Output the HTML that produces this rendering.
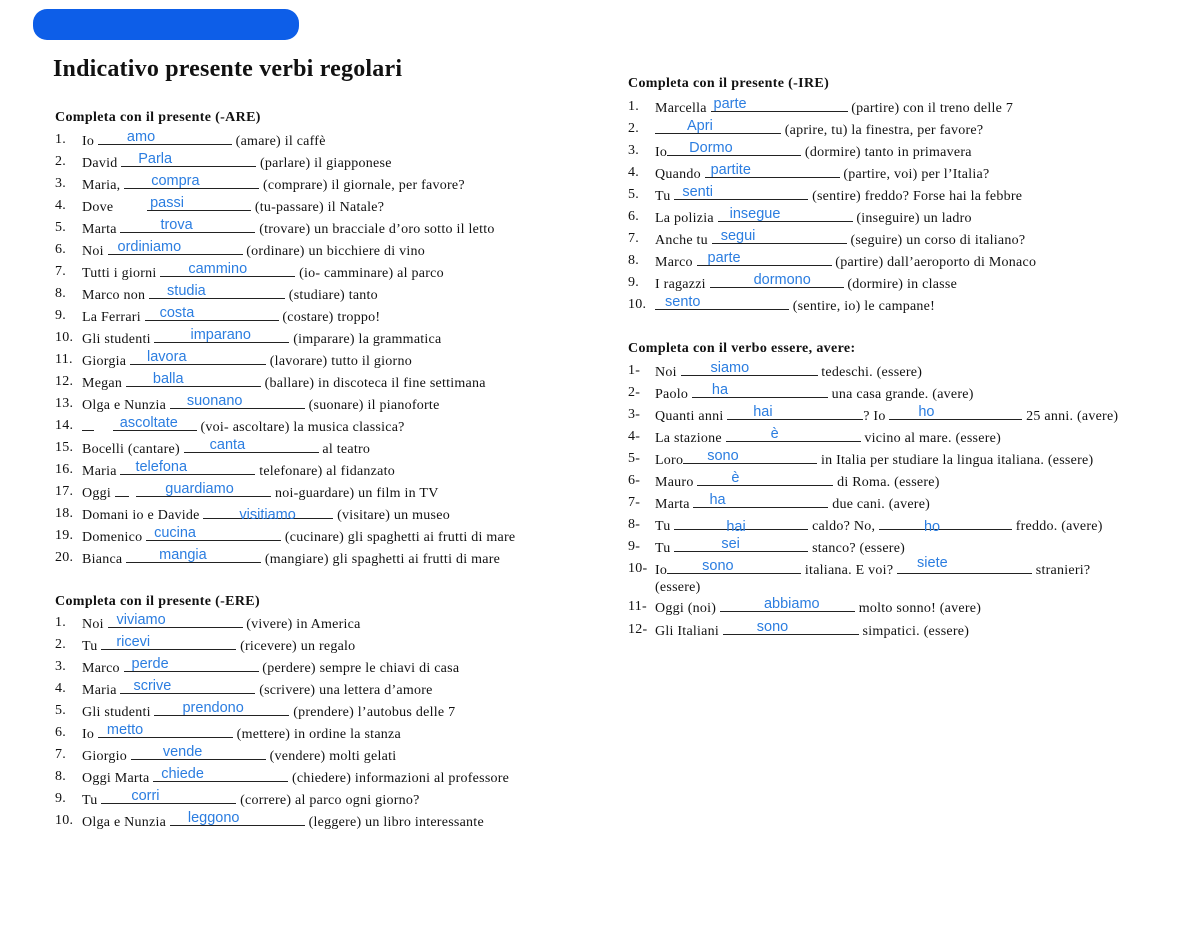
<!DOCTYPE html>
<html><head><meta charset="utf-8"><style>
body{margin:0;background:#fff;width:1200px;height:927px;position:relative;overflow:hidden;font-family:"Liberation Serif",serif;color:#111}
.blob{position:absolute;left:33px;top:9px;width:266px;height:31px;background:#0d5ee8;border-radius:14px}
h1{position:absolute;left:53px;top:56px;margin:0;font-size:24px;font-weight:bold;white-space:nowrap;letter-spacing:0.2px}
.h{position:absolute;font-size:14px;letter-spacing:0.35px;font-weight:bold;white-space:nowrap}
.l{position:absolute;font-size:14px;letter-spacing:0.25px;line-height:16px;white-space:nowrap;height:16px}
.l .t{position:absolute;left:27px;top:0}
.b{display:inline-block;border-bottom:1px solid #222;height:12px;position:relative;vertical-align:baseline}
.b u{position:absolute;bottom:-1px;font:14.5px "Liberation Sans",sans-serif;letter-spacing:0;color:#2b7de0;text-decoration:none;white-space:nowrap}
</style></head><body>
<div class="blob"></div>
<h1>Indicativo presente verbi regolari</h1>

<div class="h" style="left:55px;top:110px">Completa con il presente (-ARE)</div>
<div class="l" style="left:55px;top:132px">1.<span class="t">Io <i class="b" style="width:134px"><u style="left:29px">amo</u></i> (amare) il caffè</span></div>
<div class="l" style="left:55px;top:154px">2.<span class="t">David <i class="b" style="width:135px"><u style="left:17px">Parla</u></i> (parlare) il giapponese</span></div>
<div class="l" style="left:55px;top:176px">3.<span class="t">Maria, <i class="b" style="width:135px"><u style="left:27px">compra</u></i> (comprare) il giornale, per favore?</span></div>
<div class="l" style="left:55px;top:198px">4.<span class="t">Dove &nbsp; &nbsp; &nbsp; &nbsp; <i class="b" style="width:104px"><u style="left:3px">passi</u></i> (tu-passare) il Natale?</span></div>
<div class="l" style="left:55px;top:220px">5.<span class="t">Marta <i class="b" style="width:135px"><u style="left:40px">trova</u></i> (trovare) un bracciale d’oro sotto il letto</span></div>
<div class="l" style="left:55px;top:242px">6.<span class="t">Noi <i class="b" style="width:135px"><u style="left:10px">ordiniamo</u></i> (ordinare) un bicchiere di vino</span></div>
<div class="l" style="left:55px;top:264px">7.<span class="t">Tutti i giorni <i class="b" style="width:135px"><u style="left:28px">cammino</u></i> (io- camminare) al parco</span></div>
<div class="l" style="left:55px;top:286px">8.<span class="t">Marco non <i class="b" style="width:136px"><u style="left:18px">studia</u></i> (studiare) tanto</span></div>
<div class="l" style="left:55px;top:308px">9.<span class="t">La Ferrari <i class="b" style="width:134px"><u style="left:15px">costa</u></i> (costare) troppo!</span></div>
<div class="l" style="left:55px;top:330px">10.<span class="t">Gli studenti <i class="b" style="width:135px"><u style="left:36px">imparano</u></i> (imparare) la grammatica</span></div>
<div class="l" style="left:55px;top:352px">11.<span class="t">Giorgia <i class="b" style="width:136px"><u style="left:17px">lavora</u></i> (lavorare) tutto il giorno</span></div>
<div class="l" style="left:55px;top:374px">12.<span class="t">Megan <i class="b" style="width:135px"><u style="left:27px">balla</u></i> (ballare) in discoteca il fine settimana</span></div>
<div class="l" style="left:55px;top:396px">13.<span class="t">Olga e Nunzia <i class="b" style="width:135px"><u style="left:17px">suonano</u></i> (suonare) il pianoforte</span></div>
<div class="l" style="left:55px;top:418px">14.<span class="t"><i class="b" style="width:12px"></i> &nbsp; &nbsp; <i class="b" style="width:84px"><u style="left:7px">ascoltate</u></i> (voi- ascoltare) la musica classica?</span></div>
<div class="l" style="left:55px;top:440px">15.<span class="t">Bocelli (cantare) <i class="b" style="width:135px"><u style="left:26px">canta</u></i> al teatro</span></div>
<div class="l" style="left:55px;top:462px">16.<span class="t">Maria <i class="b" style="width:135px"><u style="left:15px">telefona</u></i> telefonare) al fidanzato</span></div>
<div class="l" style="left:55px;top:484px">17.<span class="t">Oggi <i class="b" style="width:14px"></i> &nbsp;<i class="b" style="width:135px"><u style="left:29px">guardiamo</u></i> noi-guardare) un film in TV</span></div>
<div class="l" style="left:55px;top:506px">18.<span class="t">Domani io e Davide <i class="b" style="width:130px"><u style="left:36px;bottom:-5px">visitiamo</u></i> (visitare) un museo</span></div>
<div class="l" style="left:55px;top:528px">19.<span class="t">Domenico <i class="b" style="width:135px"><u style="left:8px">cucina</u></i> (cucinare) gli spaghetti ai frutti di mare</span></div>
<div class="l" style="left:55px;top:550px">20.<span class="t">Bianca <i class="b" style="width:135px"><u style="left:33px">mangia</u></i> (mangiare) gli spaghetti ai frutti di mare</span></div>

<div class="h" style="left:55px;top:594px">Completa con il presente (-ERE)</div>
<div class="l" style="left:55px;top:615px">1.<span class="t">Noi <i class="b" style="width:135px"><u style="left:9px">viviamo</u></i> (vivere) in America</span></div>
<div class="l" style="left:55px;top:637px">2.<span class="t">Tu <i class="b" style="width:135px"><u style="left:15px">ricevi</u></i> (ricevere) un regalo</span></div>
<div class="l" style="left:55px;top:659px">3.<span class="t">Marco <i class="b" style="width:135px"><u style="left:8px">perde</u></i> (perdere) sempre le chiavi di casa</span></div>
<div class="l" style="left:55px;top:681px">4.<span class="t">Maria <i class="b" style="width:135px"><u style="left:13px">scrive</u></i> (scrivere) una lettera d’amore</span></div>
<div class="l" style="left:55px;top:703px">5.<span class="t">Gli studenti <i class="b" style="width:135px"><u style="left:28px">prendono</u></i> (prendere) l’autobus delle 7</span></div>
<div class="l" style="left:55px;top:725px">6.<span class="t">Io <i class="b" style="width:135px"><u style="left:9px">metto</u></i> (mettere) in ordine la stanza</span></div>
<div class="l" style="left:55px;top:747px">7.<span class="t">Giorgio <i class="b" style="width:135px"><u style="left:32px">vende</u></i> (vendere) molti gelati</span></div>
<div class="l" style="left:55px;top:769px">8.<span class="t">Oggi Marta <i class="b" style="width:135px"><u style="left:8px">chiede</u></i> (chiedere) informazioni al professore</span></div>
<div class="l" style="left:55px;top:791px">9.<span class="t">Tu <i class="b" style="width:135px"><u style="left:30px">corri</u></i> (correre) al parco ogni giorno?</span></div>
<div class="l" style="left:55px;top:813px">10.<span class="t">Olga e Nunzia <i class="b" style="width:135px"><u style="left:18px">leggono</u></i> (leggere) un libro interessante</span></div>

<div class="h" style="left:628px;top:76px">Completa con il presente (-IRE)</div>
<div class="l" style="left:628px;top:99px">1.<span class="t">Marcella <i class="b" style="width:137px"><u style="left:3px">parte</u></i> (partire) con il treno delle 7</span></div>
<div class="l" style="left:628px;top:121px">2.<span class="t"><i class="b" style="width:126px"><u style="left:32px">Apri</u></i> (aprire, tu) la finestra, per favore?</span></div>
<div class="l" style="left:628px;top:143px">3.<span class="t">Io<i class="b" style="width:134px"><u style="left:22px">Dormo</u></i> (dormire) tanto in primavera</span></div>
<div class="l" style="left:628px;top:165px">4.<span class="t">Quando <i class="b" style="width:135px"><u style="left:6px">partite</u></i> (partire, voi) per l’Italia?</span></div>
<div class="l" style="left:628px;top:187px">5.<span class="t">Tu <i class="b" style="width:134px"><u style="left:8px">senti</u></i> (sentire) freddo? Forse hai la febbre</span></div>
<div class="l" style="left:628px;top:209px">6.<span class="t">La polizia <i class="b" style="width:135px"><u style="left:12px">insegue</u></i> (inseguire) un ladro</span></div>
<div class="l" style="left:628px;top:231px">7.<span class="t">Anche tu <i class="b" style="width:135px"><u style="left:9px">segui</u></i> (seguire) un corso di italiano?</span></div>
<div class="l" style="left:628px;top:253px">8.<span class="t">Marco <i class="b" style="width:135px"><u style="left:11px">parte</u></i> (partire) dall’aeroporto di Monaco</span></div>
<div class="l" style="left:628px;top:275px">9.<span class="t">I ragazzi <i class="b" style="width:134px"><u style="left:44px">dormono</u></i> (dormire) in classe</span></div>
<div class="l" style="left:628px;top:297px">10.<span class="t"><i class="b" style="width:134px"><u style="left:10px">sento</u></i> (sentire, io) le campane!</span></div>

<div class="h" style="left:628px;top:341px">Completa con il verbo essere, avere:</div>
<div class="l" style="left:628px;top:363px">1-<span class="t">Noi <i class="b" style="width:137px"><u style="left:30px">siamo</u></i> tedeschi. (essere)</span></div>
<div class="l" style="left:628px;top:385px">2-<span class="t">Paolo <i class="b" style="width:136px"><u style="left:20px">ha</u></i> una casa grande. (avere)</span></div>
<div class="l" style="left:628px;top:407px">3-<span class="t">Quanti anni <i class="b" style="width:136px"><u style="left:26px">hai</u></i>? Io <i class="b" style="width:133px"><u style="left:29px">ho</u></i> 25 anni. (avere)</span></div>
<div class="l" style="left:628px;top:429px">4-<span class="t">La stazione <i class="b" style="width:135px"><u style="left:45px">è</u></i> vicino al mare. (essere)</span></div>
<div class="l" style="left:628px;top:451px">5-<span class="t">Loro<i class="b" style="width:134px"><u style="left:24px">sono</u></i> in Italia per studiare la lingua italiana. (essere)</span></div>
<div class="l" style="left:628px;top:473px">6-<span class="t">Mauro <i class="b" style="width:136px"><u style="left:34px">è</u></i> di Roma. (essere)</span></div>
<div class="l" style="left:628px;top:495px">7-<span class="t">Marta <i class="b" style="width:135px"><u style="left:16px">ha</u></i> due cani. (avere)</span></div>
<div class="l" style="left:628px;top:517px">8-<span class="t">Tu <i class="b" style="width:134px"><u style="left:52px;bottom:-6px">hai</u></i> caldo? No, <i class="b" style="width:133px"><u style="left:45px;bottom:-6px">ho</u></i> freddo. (avere)</span></div>
<div class="l" style="left:628px;top:539px">9-<span class="t">Tu <i class="b" style="width:134px"><u style="left:47px">sei</u></i> stanco? (essere)</span></div>
<div class="l" style="left:628px;top:561px">10-<span class="t">Io<i class="b" style="width:134px"><u style="left:35px">sono</u></i> italiana. E voi? <i class="b" style="width:135px"><u style="left:20px;bottom:2px">siete</u></i> stranieri?</span></div>
<div class="l" style="left:628px;top:580px"><span class="t">(essere)</span></div>
<div class="l" style="left:628px;top:599px">11-<span class="t">Oggi (noi) <i class="b" style="width:135px"><u style="left:44px">abbiamo</u></i> molto sonno! (avere)</span></div>
<div class="l" style="left:628px;top:622px">12-<span class="t">Gli Italiani <i class="b" style="width:136px"><u style="left:34px">sono</u></i> simpatici. (essere)</span></div>
</body></html>
